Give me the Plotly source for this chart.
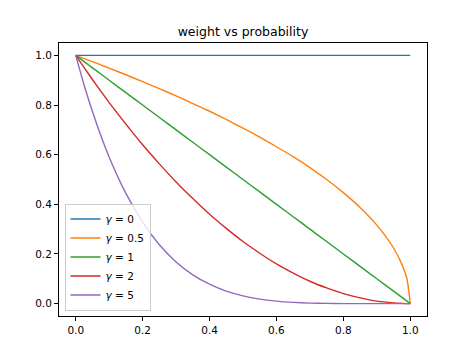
import plotly.graph_objects as go

probability = [0, 0.025, 0.05, 0.075, 0.1, 0.15, 0.2, 0.25, 0.3, 0.35, 0.4, 0.45, 0.5, 0.55, 0.6,
               0.65, 0.7, 0.75, 0.8, 0.85, 0.9, 0.95, 0.975, 0.99, 1.0]
w_g0 = [1.0] * 25
w_g05 = [1.0, 0.987, 0.975, 0.962, 0.949, 0.922, 0.894, 0.866, 0.837, 0.806, 0.775, 0.742, 0.707,
         0.671, 0.632, 0.592, 0.548, 0.5, 0.447, 0.387, 0.316, 0.224, 0.158, 0.1, 0.0]
w_g1 = [1.0, 0.975, 0.95, 0.925, 0.9, 0.85, 0.8, 0.75, 0.7, 0.65, 0.6, 0.55, 0.5, 0.45, 0.4,
        0.35, 0.3, 0.25, 0.2, 0.15, 0.1, 0.05, 0.025, 0.01, 0.0]
w_g2 = [1.0, 0.951, 0.903, 0.856, 0.81, 0.723, 0.64, 0.563, 0.49, 0.423, 0.36, 0.303, 0.25,
        0.203, 0.16, 0.123, 0.09, 0.063, 0.04, 0.023, 0.01, 0.003, 0.001, 0.0, 0.0]
w_g5 = [1.0, 0.881, 0.774, 0.677, 0.59, 0.444, 0.328, 0.237, 0.168, 0.116, 0.078, 0.05, 0.031,
        0.018, 0.01, 0.005, 0.002, 0.001, 0.0, 0.0, 0.0, 0.0, 0.0, 0.0, 0.0]

series = [
    ("<i>γ</i> = 0", w_g0, "#1f77b4"),
    ("<i>γ</i> = 0.5", w_g05, "#ff7f0e"),
    ("<i>γ</i> = 1", w_g1, "#2ca02c"),
    ("<i>γ</i> = 2", w_g2, "#d62728"),
    ("<i>γ</i> = 5", w_g5, "#9467bd"),
]

fig = go.Figure()
for name, ys, color in series:
    fig.add_trace(go.Scatter(x=probability, y=ys, mode="lines", name=name,
                             line=dict(color=color, width=1.4, shape="spline", smoothing=0.6)))

axis_common = dict(showline=True, linecolor="black", linewidth=1, mirror=True,
                   ticks="outside", ticklen=4, tickcolor="black", showgrid=False,
                   zeroline=False, tickfont=dict(size=10.5, color="black"))
fig.update_layout(
    width=474, height=355,
    margin=dict(l=59, r=47, t=43, b=39),
    paper_bgcolor="white", plot_bgcolor="white",
    font=dict(family="DejaVu Sans", color="black"),
    title=dict(text="weight vs probability", x=0.5, xanchor="center", xref="paper",
               y=1 - 31.5 / 355, yanchor="middle", font=dict(size=12.5)),
    xaxis=dict(range=[-0.05, 1.05], tickvals=[0, 0.2, 0.4, 0.6, 0.8, 1.0],
               ticktext=["0.0", "0.2", "0.4", "0.6", "0.8", "1.0"], **axis_common),
    yaxis=dict(range=[-0.05, 1.05], tickvals=[0, 0.2, 0.4, 0.6, 0.8, 1.0],
               ticktext=["0.0", "0.2", "0.4", "0.6", "0.8", "1.0"], **axis_common),
    legend=dict(x=0.015, y=0.02, xanchor="left", yanchor="bottom",
                bgcolor="rgba(255,255,255,0.8)", bordercolor="#cccccc", borderwidth=1,
                font=dict(size=10.5), itemwidth=30, tracegroupgap=0),
    showlegend=True,
)

fig.write_html("out.html")
